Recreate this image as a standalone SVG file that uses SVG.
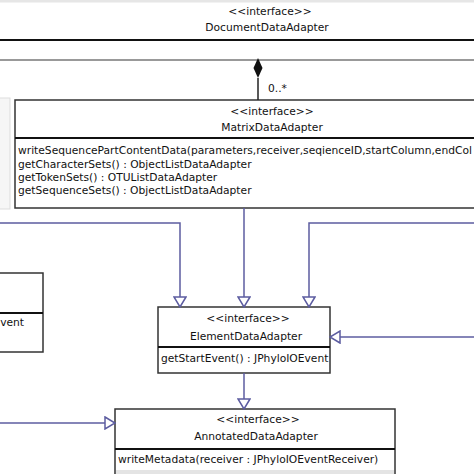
<svg xmlns="http://www.w3.org/2000/svg" width="474" height="474" viewBox="0 0 474 474">
<style>
text{font-family:"DejaVu Sans","Liberation Sans",sans-serif;font-size:10.7px;fill:#111}
.c{text-anchor:middle}
.box{fill:#fff;stroke:#333;stroke-width:1.5}
.sep{stroke:#111;stroke-width:2}
.conn{fill:none;stroke:#5c5ca0;stroke-width:1.5}
</style>
<defs>
<marker id="tri" viewBox="0 0 12 14" refX="11" refY="7" markerWidth="12" markerHeight="14" markerUnits="userSpaceOnUse" orient="auto">
<path d="M1,1 L11,7 L1,13 Z" fill="#fff" stroke="#5c5ca0" stroke-width="1.5"/>
</marker>
</defs>
<rect x="0" y="0" width="474" height="474" fill="#fff"/>
<rect x="0" y="0" width="474" height="2.5" fill="#e6e6e6"/>
<g id="DocumentDataAdapter">
<line x1="0" y1="40" x2="474" y2="40" class="sep"/>
<line x1="0" y1="60" x2="474" y2="60" stroke="#777" stroke-width="1.5"/>
<text x="270" y="14.5" class="c">&lt;&lt;interface&gt;&gt;</text>
<text x="267" y="31" class="c">DocumentDataAdapter</text>
</g>
<g id="LeftPartial">
<rect x="-5" y="98" width="15" height="111" fill="#f6f6f6" stroke="#dddddd" stroke-width="1"/>
</g>
<g id="MatrixDataAdapter">
<rect x="15" y="100" width="480" height="108" class="box"/>
<line x1="15" y1="138" x2="474" y2="138" class="sep"/>
<text x="272" y="115" class="c">&lt;&lt;interface&gt;&gt;</text>
<text x="272" y="131" class="c">MatrixDataAdapter</text>
<text x="18" y="154">writeSequencePartContentData(parameters,receiver,seqienceID,startColumn,endCol</text>
<text x="18" y="167.5">getCharacterSets() : ObjectListDataAdapter</text>
<text x="18" y="180.7">getTokenSets() : OTUListDataAdapter</text>
<text x="18" y="193.5">getSequenceSets() : ObjectListDataAdapter</text>
</g>
<g id="LeftBox">
<rect x="-10" y="273" width="53" height="79" class="box"/>
<line x1="-10" y1="313" x2="43" y2="313" class="sep"/>
<text x="24" y="326" style="text-anchor:end">vent</text>
</g>
<g id="ElementDataAdapter">
<rect x="158" y="307" width="172" height="66" class="box"/>
<line x1="158" y1="347" x2="330" y2="347" class="sep"/>
<text x="248" y="322" class="c">&lt;&lt;interface&gt;&gt;</text>
<text x="246" y="340" class="c">ElementDataAdapter</text>
<text x="161" y="362">getStartEvent() : JPhyloIOEvent</text>
</g>
<g id="AnnotatedDataAdapter">
<rect x="115" y="409" width="280" height="75" class="box"/>
<rect x="116" y="470" width="278" height="4" fill="#e4e4e4"/>
<line x1="115" y1="449" x2="395" y2="449" class="sep"/>
<text x="258" y="423" class="c">&lt;&lt;interface&gt;&gt;</text>
<text x="256" y="440" class="c">AnnotatedDataAdapter</text>
<text x="118" y="463">writeMetadata(receiver : JPhyloIOEventReceiver)</text>
</g>
<g id="connectors">
<line x1="258" y1="78" x2="258" y2="100" stroke="#222" stroke-width="1.5"/>
<path d="M258,58 L262.5,68 L258,78 L253.5,68 Z" fill="#111"/>
<text x="268" y="92">0..*</text>
<path d="M0,223 H180 V307" class="conn" marker-end="url(#tri)"/>
<path d="M244,208 V307" class="conn" marker-end="url(#tri)"/>
<path d="M474,223 H309 V307" class="conn" marker-end="url(#tri)"/>
<path d="M474,337 H330" class="conn" marker-end="url(#tri)"/>
<path d="M244,373 V409" class="conn" marker-end="url(#tri)"/>
<path d="M0,423 H115" class="conn" marker-end="url(#tri)"/>
</g>
</svg>
